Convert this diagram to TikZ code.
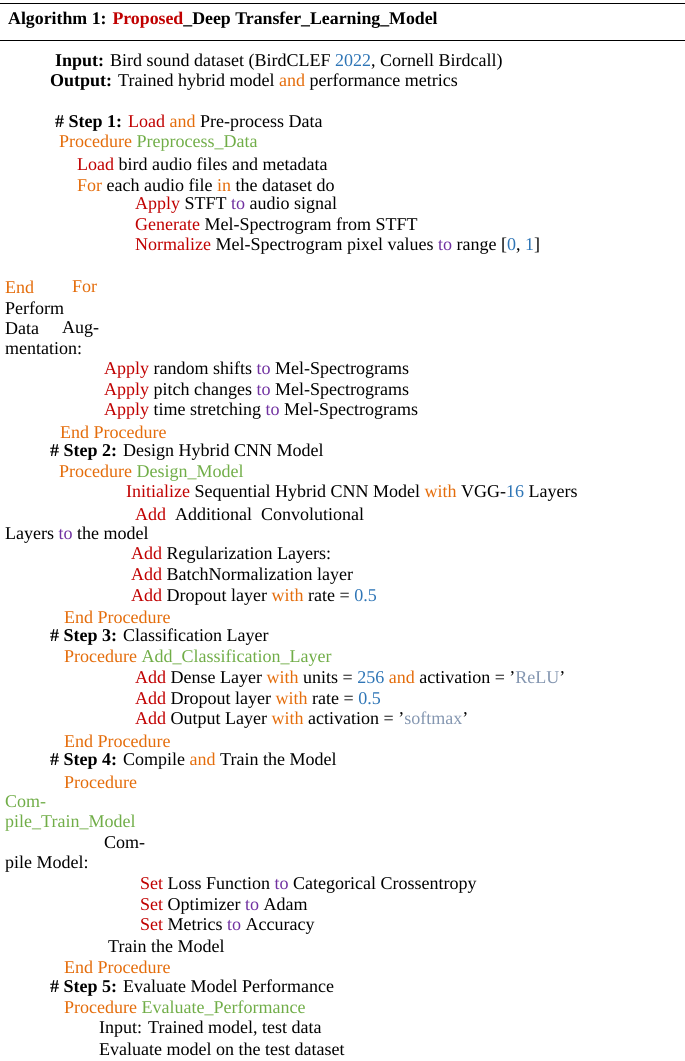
\documentclass[tikz,border=0pt]{standalone}
\usepackage{fontspec}
\setmainfont{Liberation Serif}
\usetikzlibrary{positioning}
\definecolor{kred}{HTML}{C00000}
\definecolor{korange}{HTML}{E46C0A}
\definecolor{kpurple}{HTML}{7030A0}
\definecolor{kblue}{HTML}{2E75B6}
\definecolor{kgreen}{HTML}{70AD47}
\definecolor{klight}{HTML}{8496B0}
\newcommand{\kr}[1]{\textcolor{kred}{#1}}
\newcommand{\ko}[1]{\textcolor{korange}{#1}}
\newcommand{\kp}[1]{\textcolor{kpurple}{#1}}
\newcommand{\kb}[1]{\textcolor{kblue}{#1}}
\newcommand{\kg}[1]{\textcolor{kgreen}{#1}}
\newcommand{\kl}[1]{\textcolor{klight}{#1}}
\newcommand{\sq}{\symbol{39}}
\begin{document}
\begin{tikzpicture}[
        x=1pt, y=-1pt,
        ln/.style={anchor=west, inner sep=0pt, font=\fontsize{18}{21}\selectfont},
        rule/.style={line width=0.6pt}
    ]
        \useasboundingbox (0,0) rectangle (685,1061);
        \coordinate (r1a) at (0,3);   \coordinate (r1b) at (685,3);
        \coordinate (r2a) at (0,40);  \coordinate (r2b) at (685,40);
        \draw[rule] (r1a) -- (r1b);
        \draw[rule] (r2a) -- (r2b);
        \node[ln, font=\fontsize{17.8}{21}\selectfont\bfseries] (title) at (8,20) {Algorithm 1: \kr{Proposed}\_Deep Transfer\_Learning\_Model};

        % step 1
        \node[ln] (l1) at (55,62) {\textbf{Input:} Bird sound dataset (BirdCLEF \kb{2022}, Cornell Birdcall)};
        \node[ln] (l2) at (50,82) {\textbf{Output:} Trained hybrid model \ko{and} performance metrics};
        \node[ln] (l3) at (55,123) {\textbf{\# Step 1:} \kr{Load} \ko{and} Pre-process Data};
        \node[ln] (l4) at (59,143) {\ko{Procedure} \kg{Preprocess\_Data}};
        \node[ln] (l5) at (77,164) {\kr{Load} bird audio files and metadata};
        \node[ln] (l6) at (77,185) {\ko{For} each audio file \ko{in} the dataset do};
        \node[ln] (l7) at (135,205) {\kr{Apply} STFT \kp{to} audio signal};
        \node[ln] (l8) at (135,226) {\kr{Generate} Mel-Spectrogram from STFT};
        \node[ln] (l9) at (135,246) {\kr{Normalize} Mel-Spectrogram pixel values \kp{to} range [\kb{0}, \kb{1}]};
        \node[ln] (l10) at (5,287) {\ko{End}};
        \node[ln] (l10b) at (72,287) {\ko{For}};
        \node[ln] (l11) at (5,308) {Perform};
        \node[ln] (l12) at (5,329) {Data};
        \node[ln] (l12b) at (62,329) {Aug-};
        \node[ln] (l13) at (5,349) {mentation:};
        \node[ln] (l14) at (104,370) {\kr{Apply} random shifts \kp{to} Mel-Spectrograms};
        \node[ln] (l15) at (104,391) {\kr{Apply} pitch changes \kp{to} Mel-Spectrograms};
        \node[ln] (l16) at (104,411) {\kr{Apply} time stretching \kp{to} Mel-Spectrograms};
        \node[ln] (l17) at (60,432) {\ko{End Procedure}};

        % step 2
        \node[ln] (l18) at (50,452) {\textbf{\# Step 2:} Design Hybrid CNN Model};
        \node[ln] (l19) at (59,473) {\ko{Procedure} \kg{Design\_Model}};
        \node[ln] (l20) at (126,493) {\kr{Initialize} Sequential Hybrid CNN Model \ko{with} VGG-\kb{16} Layers};
        \node[ln] (l21) at (135,514) {\kr{Add}\ \ Additional\ \ Convolutional};
        \node[ln] (l22) at (5,535) {Layers \kp{to} the model};
        \node[ln] (l23) at (131,555) {\kr{Add} Regularization Layers:};
        \node[ln] (l24) at (131,576) {\kr{Add} BatchNormalization layer};
        \node[ln] (l25) at (131,597) {\kr{Add} Dropout layer \ko{with} rate = \kb{0.5}};
        \node[ln] (l26) at (64,617) {\ko{End Procedure}};

        % step 3
        \node[ln] (l27) at (50,637) {\textbf{\# Step 3:} Classification Layer};
        \node[ln] (l28) at (64,658) {\ko{Procedure} \kg{Add\_Classification\_Layer}};
        \node[ln] (l29) at (135,679) {\kr{Add} Dense Layer \ko{with} units = \kb{256} \ko{and} activation = \sq\kl{ReLU}\sq};
        \node[ln] (l30) at (135,700) {\kr{Add} Dropout layer \ko{with} rate = \kb{0.5}};
        \node[ln] (l31) at (135,720) {\kr{Add} Output Layer \ko{with} activation = \sq\kl{softmax}\sq};
        \node[ln] (l32) at (64,741) {\ko{End Procedure}};

        % step 4
        \node[ln] (l33) at (50,761) {\textbf{\# Step 4:} Compile \ko{and} Train the Model};
        \node[ln] (l34) at (64,782) {\ko{Procedure}};
        \node[ln] (l35) at (5,802) {\kg{Com-}};
        \node[ln] (l36) at (5,823) {\kg{pile\_Train\_Model}};
        \node[ln] (l37) at (104,843) {Com-};
        \node[ln] (l38) at (5,864) {pile Model:};
        \node[ln] (l39) at (140,885) {\kr{Set} Loss Function \kp{to} Categorical Crossentropy};
        \node[ln] (l40) at (140,906) {\kr{Set} Optimizer \kp{to} Adam};
        \node[ln] (l41) at (140,926) {\kr{Set} Metrics \kp{to} Accuracy};
        \node[ln] (l42) at (108,946) {Train the Model};
        \node[ln] (l43) at (64,967) {\ko{End Procedure}};

        % step 5
        \node[ln] (l44) at (50,988) {\textbf{\# Step 5:} Evaluate Model Performance};
        \node[ln] (l45) at (64,1008) {\ko{Procedure} \kg{Evaluate\_Performance}};
        \node[ln] (l46) at (99,1029) {Input: Trained model, test data};
        \node[ln] (l47) at (99,1049) {Evaluate model on the test dataset};
    \end{tikzpicture}
\end{document}
